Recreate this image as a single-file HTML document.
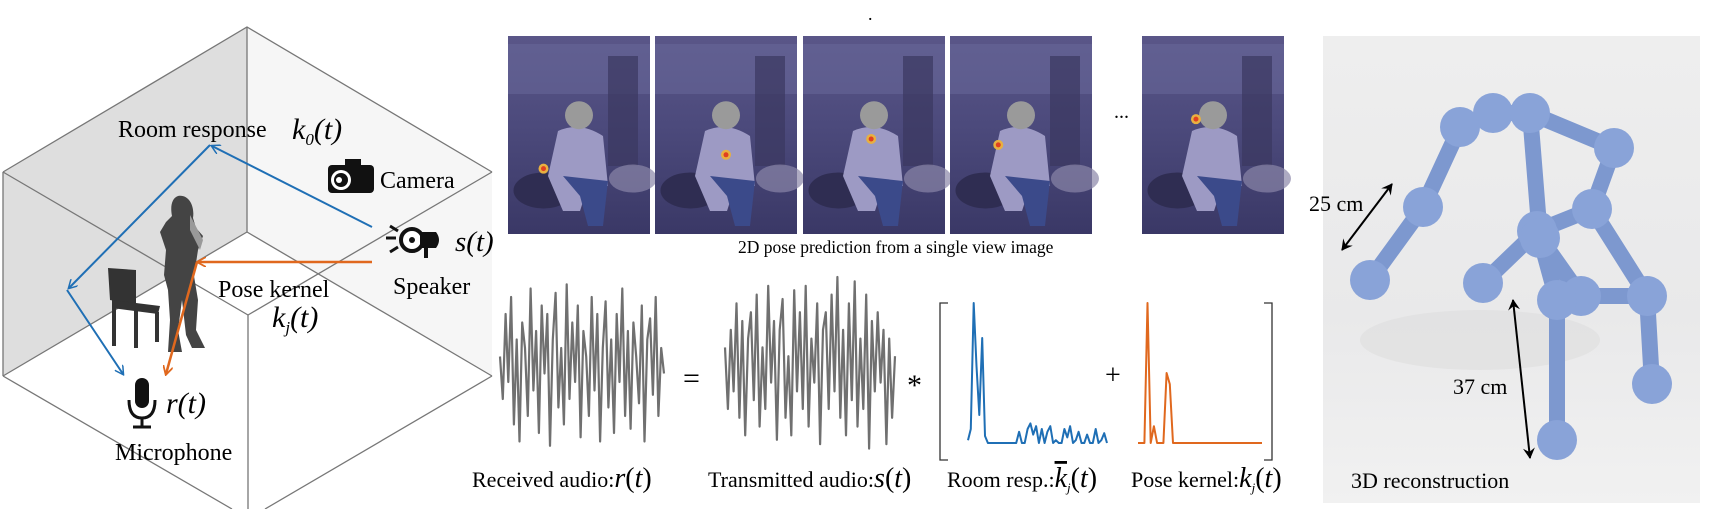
<!DOCTYPE html>
<html><head><meta charset="utf-8">
<style>
html,body{margin:0;padding:0;background:#fff;}
svg{display:block;font-family:"Liberation Serif",serif;}
</style></head>
<body>
<svg id="fig" width="1713" height="509" viewBox="0 0 1713 509" xmlns="http://www.w3.org/2000/svg">
<defs>
<linearGradient id="photoBg" x1="0" y1="0" x2="0" y2="1">
<stop offset="0" stop-color="#5a5688"/><stop offset="0.45" stop-color="#4c4a7c"/><stop offset="1" stop-color="#3a3866"/>
</linearGradient>
<linearGradient id="panelBg" x1="0" y1="0" x2="0" y2="1">
<stop offset="0" stop-color="#eeeeee"/><stop offset="0.6" stop-color="#e9e9ea"/><stop offset="1" stop-color="#f1f1f1"/>
</linearGradient>
<marker id="ab" markerWidth="10" markerHeight="10" refX="8" refY="5" orient="auto" markerUnits="userSpaceOnUse"><path d="M0,0 L9,5 L0,10" fill="none" stroke="#1f6fb5" stroke-width="1.5"/></marker>
<marker id="ao" markerWidth="10" markerHeight="10" refX="8" refY="5" orient="auto" markerUnits="userSpaceOnUse"><path d="M0,0 L9,5 L0,10" fill="none" stroke="#e0681e" stroke-width="1.8"/></marker>
<marker id="ak" markerWidth="12" markerHeight="12" refX="10" refY="6" orient="auto" markerUnits="userSpaceOnUse"><path d="M0,0 L11,6 L0,12 L4,6 Z" fill="#000"/></marker>
<marker id="aks" markerWidth="12" markerHeight="12" refX="1" refY="6" orient="auto" markerUnits="userSpaceOnUse"><path d="M11,0 L0,6 L11,12 L7,6 Z" fill="#000"/></marker>
</defs>

<g>
<polygon points="3,172 247,27 247,232 3,376" fill="#dedede"/>
<polygon points="247,27 492,172 492,376 247,232" fill="#f6f6f6"/>
<g stroke="#777" stroke-width="1.3" fill="none">
<polyline points="3,172 247,27 492,172"/>
<line x1="3" y1="172" x2="3" y2="376"/>
<line x1="247" y1="27" x2="247" y2="232"/>
<line x1="247" y1="232" x2="3" y2="376"/>
<line x1="247" y1="232" x2="492" y2="376"/>
<line x1="3" y1="172" x2="248" y2="315"/>
<line x1="248" y1="315" x2="492" y2="172"/>
<line x1="248" y1="315" x2="248" y2="509"/>
<line x1="3" y1="376" x2="232" y2="509"/>
<line x1="265" y1="509" x2="492" y2="376"/>
</g>
<g fill="#333">
<polygon points="108,268 136,270 136,305 110,300"/>
<polygon points="112,300 160,306 158,314 112,308"/>
<rect x="112" y="306" width="4" height="40"/><rect x="134" y="310" width="4" height="38"/><rect x="155" y="312" width="4" height="30"/>
</g>
<path fill="#444" d="M178,196 C188,194 195,205 193,218 L196,228 L203,236 L198,250 L194,276 L198,300 L196,330 L205,348 L192,348 L186,335 L182,300 L178,330 L182,352 L168,352 L170,320 L168,290 L164,275 L166,250 L160,232 L166,222 L172,216 C170,206 172,198 178,196 Z"/>
<path d="M190,215 L203,240 L200,250 L190,230 Z" fill="#999"/>
<line x1="372" y1="227" x2="212" y2="146" stroke="#1f6fb5" stroke-width="2" marker-end="url(#ab)"/>
<line x1="210" y1="145" x2="69" y2="288" stroke="#1f6fb5" stroke-width="2" marker-end="url(#ab)"/>
<line x1="67" y1="290" x2="123" y2="374" stroke="#1f6fb5" stroke-width="2" marker-end="url(#ab)"/>
<line x1="372" y1="262" x2="198" y2="262" stroke="#e0681e" stroke-width="2.5" marker-end="url(#ao)"/>
<line x1="197" y1="262" x2="166" y2="374" stroke="#e0681e" stroke-width="2.5" marker-end="url(#ao)"/>
<g>
<rect x="328" y="165" width="46" height="28" rx="4" fill="#111"/>
<rect x="345" y="159" width="16" height="8" fill="#111"/>
<circle cx="341" cy="180" r="10" fill="#fff"/><circle cx="341" cy="180" r="7" fill="#111"/><circle cx="339" cy="180" r="3" fill="#fff"/>
</g>
<text x="380" y="188" font-size="24">Camera</text>
<g>
<circle cx="412" cy="240" r="11" fill="#fff" stroke="#111" stroke-width="4"/><circle cx="412" cy="240" r="3" fill="#111"/>
<path d="M420,232 L436,232 Q442,240 436,248 L420,248 Z" fill="#111"/><rect x="424" y="246" width="4" height="12" fill="#111"/>
<line x1="386" y1="238" x2="396" y2="238" stroke="#111" stroke-width="3"/><line x1="390" y1="226" x2="398" y2="231" stroke="#111" stroke-width="3"/><line x1="390" y1="252" x2="398" y2="247" stroke="#111" stroke-width="3"/>
</g>
<text x="455" y="251" font-size="29" font-style="italic">s(t)</text>
<text x="393" y="294" font-size="24">Speaker</text>
<text x="118" y="137" font-size="24">Room response</text>
<text x="292" y="139" font-size="30" font-style="italic">k<tspan font-size="17" dy="6">0</tspan><tspan dy="-6">(t)</tspan></text>
<text x="218" y="297" font-size="24">Pose kernel</text>
<text x="272" y="327" font-size="30" font-style="italic">k<tspan font-size="17" dy="6">j</tspan><tspan dy="-6">(t)</tspan></text>
<g>
<rect x="135" y="378" width="14" height="30" rx="7" fill="#111"/>
<path d="M129,400 Q129,418 142,418 Q155,418 155,400" fill="none" stroke="#111" stroke-width="3"/>
<line x1="142" y1="418" x2="142" y2="426" stroke="#111" stroke-width="3"/><line x1="133" y1="427" x2="151" y2="427" stroke="#111" stroke-width="3"/>
</g>
<text x="166" y="413" font-size="30" font-style="italic">r(t)</text>
<text x="115" y="460" font-size="24">Microphone</text>
</g>

<text x="868" y="20" font-size="18">.</text>
<g id="photos"></g>
<text x="1114" y="118" font-size="20">...</text>
<text x="738" y="253" font-size="17.5">2D pose prediction from a single view image</text>

<g id="waves"></g>
<text x="683" y="388" font-size="30">=</text>
<text x="907" y="395" font-size="30">*</text>
<text x="1105" y="384" font-size="28">+</text>
<path d="M948,303 L940,303 L940,460 L948,460" fill="none" stroke="#333" stroke-width="1.3"/>
<path d="M1264,303 L1272,303 L1272,460 L1264,460" fill="none" stroke="#333" stroke-width="1.3"/>
<text x="472" y="487" font-size="22">Received audio:<tspan font-style="italic" font-size="28">r</tspan><tspan font-size="28">(</tspan><tspan font-style="italic" font-size="28">t</tspan><tspan font-size="28">)</tspan></text>
<text x="708" y="487" font-size="22">Transmitted audio:<tspan font-style="italic" font-size="28">s</tspan><tspan font-size="28">(</tspan><tspan font-style="italic" font-size="28">t</tspan><tspan font-size="28">)</tspan></text>
<text x="947" y="487" font-size="22">Room resp.:<tspan font-style="italic" font-size="28" text-decoration="overline">k</tspan><tspan font-size="13" font-style="italic" dy="5">j</tspan><tspan dy="-5" font-size="28">(</tspan><tspan font-style="italic" font-size="28">t</tspan><tspan font-size="28">)</tspan></text>
<text x="1131" y="487" font-size="22">Pose kernel:<tspan font-style="italic" font-size="28">k</tspan><tspan font-size="13" font-style="italic" dy="5">j</tspan><tspan dy="-5" font-size="28">(</tspan><tspan font-style="italic" font-size="28">t</tspan><tspan font-size="28">)</tspan></text>

<g>
<rect x="1323" y="36" width="377" height="467" fill="url(#panelBg)"/>
<ellipse cx="1480" cy="340" rx="120" ry="30" fill="#dedede" opacity="0.6"/>
<g id="skel"></g>
<line x1="1342" y1="250" x2="1392" y2="184" stroke="#000" stroke-width="2" marker-end="url(#ak)" marker-start="url(#aks)"/>
<text x="1309" y="211" font-size="22">25 cm</text>
<line x1="1513" y1="300" x2="1530" y2="458" stroke="#000" stroke-width="2" marker-end="url(#ak)" marker-start="url(#aks)"/>
<text x="1453" y="394" font-size="22">37 cm</text>
<text x="1351" y="488" font-size="22">3D reconstruction</text>
</g>
</svg>
<script>
const NS="http://www.w3.org/2000/svg";
function mk(tag,attrs,parent){const e=document.createElementNS(NS,tag);for(const k in attrs)e.setAttribute(k,attrs[k]);parent.appendChild(e);return e;}

const frameX=[508,655,803,950,1142];
const hotX=[0.25,0.5,0.48,0.34,0.38];
const hotY=[0.67,0.6,0.52,0.55,0.42];
const ph=document.getElementById('photos');
frameX.forEach((x,i)=>{
 const g=mk('g',{},ph);
 
 
 const w=142,h=198,y=36;
 mk('rect',{x:x,y:y,width:w,height:h,fill:'url(#photoBg)'},g);
 mk('rect',{x:x,y:y+8,width:w,height:50,fill:'#6a6a9c',opacity:0.5},g);
 mk('rect',{x:x+100,y:y+20,width:30,height:110,fill:'#3a3860',opacity:0.7},g);
 mk('ellipse',{cx:x+w*0.25,cy:y+h*0.78,rx:30,ry:18,fill:'#2f2d52'},g);
 mk('ellipse',{cx:x+w*0.88,cy:y+h*0.72,rx:24,ry:14,fill:'#8a86a8',opacity:0.7},g);
 mk('path',{d:`M${x+50},${y+95} Q${x+72},${y+85} ${x+95},${y+100} L${x+100},${y+150} L${x+80},${y+150} L${x+72},${y+175} L${x+55},${y+175} L${x+40},${y+140} Z`,fill:'#9d9ac4'},g);
 mk('path',{d:`M${x+55},${y+140} L${x+100},${y+145} L${x+95},${y+190} L${x+80},${y+190} L${x+72},${y+160} Z`,fill:'#3b4a8a'},g);
 mk('circle',{cx:x+w*0.5,cy:y+h*0.4,r:14,fill:'#9a9a9a'},g);
 mk('circle',{cx:x+w*hotX[i],cy:y+h*hotY[i],r:5,fill:'#e8b040'},g);
 mk('circle',{cx:x+w*hotX[i],cy:y+h*hotY[i],r:2.5,fill:'#e04020'},g);
});

const receivedAudio=[0.1,-0.4,0.6,-0.2,0.8,-0.7,0.3,-0.9,0.5,0.2,-0.6,0.9,-0.3,0.4,-0.8,0.7,-0.1,0.6,-0.95,0.3,0.85,-0.5,0.2,-0.7,0.95,-0.4,0.5,-0.2,0.7,-0.85,0.4,0.1,-0.6,0.8,-0.3,0.6,-0.9,0.2,0.75,-0.5,0.3,-0.8,0.6,-0.2,0.9,-0.6,0.4,-0.75,0.5,0.1,-0.45,0.7,-0.9,0.3,0.55,-0.35,0.8,-0.6,0.2,-0.1];
const transmittedAudio=[0.2,-0.5,0.4,-0.3,0.7,-0.6,0.5,-0.8,0.3,0.6,-0.4,0.8,-0.7,0.2,-0.5,0.9,-0.2,0.5,-0.85,0.4,0.75,-0.6,0.1,-0.8,0.85,-0.3,0.6,-0.5,0.9,-0.7,0.3,-0.2,0.7,-0.9,0.4,0.6,-0.5,0.8,-0.3,1.0,-0.6,0.4,-0.8,0.7,-0.4,0.95,-0.7,0.3,-0.5,0.8,-0.95,0.5,-0.3,0.6,-0.2,0.4,-0.9,0.3,-0.6,0.1];
const roomResp=[0.02,0.1,1.0,0.55,0.2,0.75,0.05,0,0,0,0,0,0,0,0,0,0,0,0.08,0,0,0.1,0.14,0.06,0.12,0,0.1,0,0.08,0.12,0,0.02,0,0,0.1,0.04,0.12,0,0.02,0.08,0,0,0.06,0,0,0.1,0,0.02,0.07,0];
const poseKernel=[0,0,0,1.0,0,0.12,0,0,0,0.5,0.42,0,0,0,0,0,0,0,0,0,0,0,0,0,0,0,0,0,0,0,0,0,0,0,0,0,0,0,0,0];
const wv=document.getElementById('waves');
function wave(data,x0,x1,yc,amp,color,width,name){
 const xs=i=>x0+(x1-x0)*i/(data.length-1);
 const pts=data.map((v,i)=>xs(i).toFixed(1)+','+(yc-v*amp).toFixed(1)).join(' ');
 const p=mk('polyline',{points:pts,fill:'none',stroke:color,'stroke-width':width,'stroke-linejoin':'round'},wv);
 
 
}
wave(receivedAudio,500,664,365,85,'#707070',2.2,'received-audio-wave');
wave(transmittedAudio,725,895,365,88,'#707070',2.2,'transmitted-audio-wave');
wave(roomResp,968,1107,443,140,'#1f6fb5',2,'room-response-wave');
wave(poseKernel,1138,1262,443,140,'#e0681e',2,'pose-kernel-wave');

const sk=document.getElementById('skel');
const joints=[[1493,113],[1460,127],[1530,113],[1614,148],[1423,207],[1370,280],[1592,209],[1537,231],[1483,283],[1581,296],[1647,296],[1557,300],[1652,384],[1557,440],[1540,238]];
const bones=[[0,1],[0,2],[2,3],[1,4],[4,5],[2,14],[3,6],[6,7],[7,8],[6,10],[10,12],[14,11],[11,13],[14,9],[9,10]];
bones.forEach(b=>{const a=joints[b[0]],c=joints[b[1]];
 const l=mk('line',{x1:a[0],y1:a[1],x2:c[0],y2:c[1],stroke:'#7d98cf','stroke-width':16,'stroke-linecap':'round'},sk);
 
 });
joints.forEach(j=>{const c=mk('circle',{cx:j[0],cy:j[1],r:20,fill:'#89a3d8'},sk);
 
 });
</script>
</body></html>
